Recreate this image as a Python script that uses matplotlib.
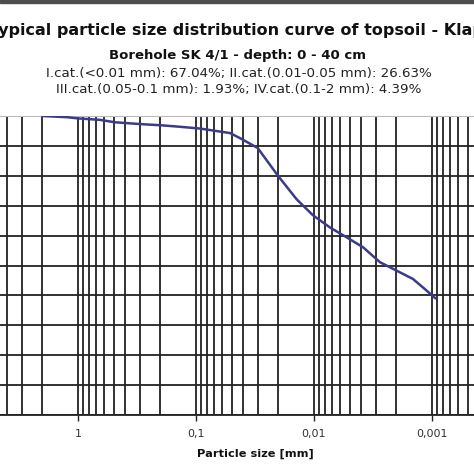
import numpy as np
import matplotlib
matplotlib.use("Agg")
from matplotlib import pyplot as plt
from matplotlib.patches import Rectangle
from matplotlib.ticker import LogLocator, FixedLocator, FixedFormatter, NullFormatter

plt.rcParams['font.family'] = ['DejaVu Sans']

# particle size [mm] and percent passing
size_mm = [2.0, 1.24, 1.0, 0.65, 0.486, 0.298, 0.198, 0.137, 0.0925, 0.0515,
           0.0424, 0.030, 0.0201, 0.0140, 0.0102, 0.00731, 0.00528, 0.00384,
           0.00276, 0.0020, 0.00145, 0.00111, 0.00094]
passing = [100.0, 99.6, 99.2, 98.7, 97.9, 97.3, 96.9, 96.4, 95.8, 94.3,
           92.6, 89.3, 79.9, 72.1, 66.8, 62.7, 59.4, 56.1,
           51.1, 48.3, 45.5, 41.6, 39.1]

major_ticks = [1, 0.1, 0.01, 0.001]
major_labels = ["1", "0,1", "0,01", "0,001"]

title = "Typical particle size distribution curve of topsoil - Klapy"
subtitle = "Borehole SK 4/1 - depth: 0 - 40 cm"
line3 = "I.cat.(<0.01 mm): 67.04%; II.cat.(0.01-0.05 mm): 26.63%"
line4 = "III.cat.(0.05-0.1 mm): 1.93%; IV.cat.(0.1-2 mm): 4.39%"

W = 474.0
fig = plt.figure(figsize=(4.74, 4.74), dpi=100)
ax = fig.add_axes([0, 1 - 415 / W, 1, (415 - 116) / W])

ax.plot(size_mm, passing, color='#3b3b8a', lw=1.8, zorder=3)

ax.set_xscale('log')
ax.set_xlim(10 ** (78 / 118), 10 ** (-3 - 42 / 118))
ax.set_ylim(0, 100)

ax.xaxis.set_major_locator(FixedLocator(major_ticks))
ax.xaxis.set_major_formatter(FixedFormatter(major_labels))
ax.xaxis.set_minor_locator(LogLocator(base=10, subs=np.arange(2, 10)))
ax.xaxis.set_minor_formatter(NullFormatter())
ax.set_yticks(np.arange(0, 101, 10))
ax.set_yticklabels([])

ax.grid(True, which='both', axis='x', color='#222222', lw=1.3)
ax.grid(True, which='major', axis='y', color='#222222', lw=1.3)
ax.set_axisbelow(True)

ax.tick_params(axis='x', which='major', length=4, width=1, color='#222222',
               labelsize=8, labelcolor='#333333', pad=6)
ax.tick_params(axis='x', which='minor', length=0)
ax.tick_params(axis='y', length=0)

for s in ['left', 'right']:
    ax.spines[s].set_visible(False)
ax.spines['top'].set_color('#bbbbbb')
ax.spines['bottom'].set_color('#222222')
ax.spines['bottom'].set_linewidth(1.3)

ax.set_xlabel("Particle size [mm]", fontsize=8.2, fontweight='bold', color='#111111')
ax.xaxis.set_label_coords(255 / W, -(454 - 415) / (415 - 116))
ax.xaxis.label.set_verticalalignment('center')

fig.add_artist(Rectangle((0, 1 - 2.5 / W), 1, 2.5 / W, transform=fig.transFigure,
                         color='#4d4d4d'))

fig.text(-11 / W, 1 - 30 / W, title, ha='left', va='center', fontsize=11.5,
         fontweight='bold', color='#111111')
fig.text(237.5 / W, 1 - 55 / W, subtitle, ha='center', va='center', fontsize=9.5,
         fontweight='bold', color='#111111')
fig.text(238.5 / W, 1 - 74 / W, line3, ha='center', va='center', fontsize=9.6,
         color='#222222')
fig.text(238.5 / W, 1 - 90 / W, line4, ha='center', va='center', fontsize=9.6,
         color='#222222')

fig.savefig("out.png", dpi=100)
